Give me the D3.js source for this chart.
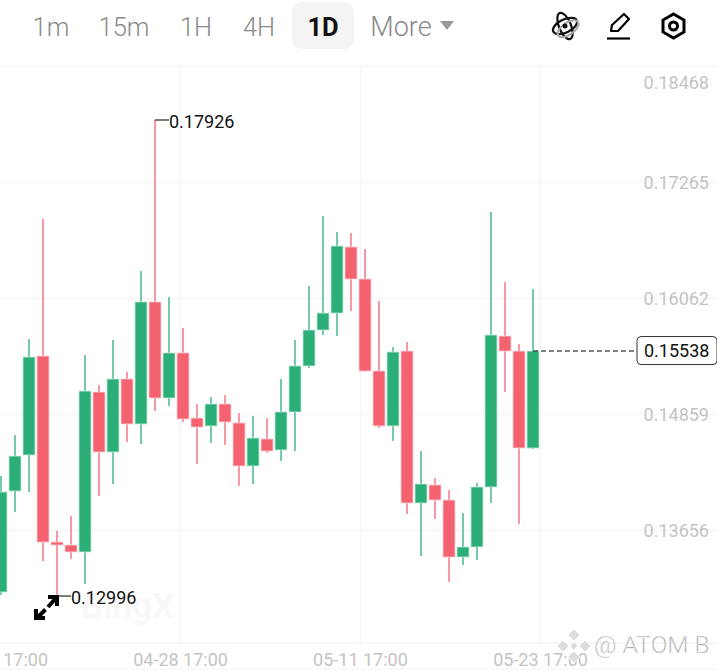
<!DOCTYPE html>
<html><head><meta charset="utf-8">
<script src="https://cdn.jsdelivr.net/npm/d3@7/dist/d3.min.js"></script>
<style>html,body{margin:0;padding:0;background:#fff;overflow:hidden}svg{display:block;font-family:Roboto,sans-serif}</style>
</head><body><svg id="c" width="717" height="670"></svg>
<script>
const opens =[.13013,.14060,.14434,.15460,.13531,.13500,.13428,.15087,.14465,.15222,.14755,.16021,.15025,.15492,.14817,.14735,.14963,.14766,.14320,.14600,.14486,.14880,.15357,.15730,.15906,.16591,.16259,.15305,.14735,.15512,.13936,.14123,.13967,.13376,.13480,.14102,.15668,.15512,.14506];
const highs =[.14216,.14641,.15637,.16881,.13646,.13801,.15471,.15160,.15626,.15295,.16342,.17908,.16072,.15751,.14963,.15035,.15056,.14869,.14838,.14817,.15222,.15626,.16186,.16912,.16746,.16736,.16570,.16031,.15554,.15606,.14475,.14195,.14071,.13832,.14143,.16954,.16228,.15585,.16155];
const lows  =[.12982,.13843,.14050,.13334,.12971,.13355,.13096,.14009,.14133,.14569,.14548,.14890,.14942,.14776,.14340,.14558,.14537,.14112,.14133,.14454,.14372,.14475,.15336,.15678,.15668,.15927,.15295,.14714,.14579,.13822,.13386,.13770,.13117,.13293,.13345,.13936,.15087,.13718,.14496];
const closes=[.14050,.14423,.15450,.13531,.13500,.13428,.15097,.14465,.15222,.14755,.16021,.15025,.15492,.14807,.14724,.14963,.14776,.14320,.14610,.14475,.14880,.15357,.15730,.15906,.16601,.16259,.15305,.14735,.15502,.13936,.14133,.13967,.13376,.13480,.14102,.15678,.15512,.14506,.15512];
const priceTicks=[0.18468,0.17265,0.16062,0.14859,0.13656];
const dateIdx=[12.79,25.64,38.5];
const dateLabels=["04-28 17:00","05-11 17:00","05-23 17:00"];
const clippedDate="17:00";
const lastPrice="0.15538", maxLabel="0.17926", minLabel="0.12996";
const periods=["1m","15m","1H","4H","1D","More"];
const periodX=[51,124,196,259,323,401];

const UP="#2bae78",DOWN="#f46270",UPW="#76c9a9",DOWNW="#f898a4";
const svg=d3.select("#c");
const W=717;
const y=d3.scaleLinear().domain([0.18468,0.13656]).range([66,530]);
const x=d3.scaleLinear().domain([0,38]).range([1,533]);

const axisY=svg.append("g").attr("transform",`translate(${W},0)`)
  .call(d3.axisLeft(y).tickValues(priceTicks).tickSize(W).tickFormat(d3.format(".5f")));
axisY.select(".domain").remove();
axisY.selectAll("line").attr("stroke","#f5f5f5").attr("stroke-width",1.6);
axisY.selectAll("text").attr("x",-8).attr("text-anchor","end").attr("dy",(d,i)=>i==0?"22.500px":"6.500px")
  .attr("fill","#c4c4c4").attr("font-size",18).attr("font-family","Roboto");

const axisX=svg.append("g").attr("transform","translate(0,643)")
  .call(d3.axisBottom(x).tickValues(dateIdx).tickSize(-577).tickFormat((d,i)=>dateLabels[i]));
axisX.select(".domain").remove();
axisX.selectAll("line").attr("stroke","#f5f5f5").attr("stroke-width",1.6);
axisX.selectAll("text").attr("y",0).attr("dy","23px").attr("fill","#c4c4c4").attr("font-size",18).attr("font-family","Roboto").attr("text-anchor","middle");
svg.append("text").attr("x",48).attr("y",666).attr("text-anchor","end").attr("fill","#c4c4c4").attr("font-size",18).text(clippedDate);
svg.append("line").attr("x1",0).attr("x2",W).attr("y1",643).attr("y2",643).attr("stroke","#f3f3f3").attr("stroke-width",1.6);
svg.append("line").attr("x1",0).attr("x2",W).attr("y1",669).attr("y2",669).attr("stroke","#f4f4f4").attr("stroke-width",1);

svg.append("text").attr("x",81).attr("y",618).attr("font-size",35).attr("font-weight",700).attr("fill","#f8f8f8").text("BingX");

const rows=d3.range(opens.length);
const isUp=i=>closes[i]>=opens[i];
svg.append("g").selectAll("line").data(rows).join("line")
  .attr("x1",x).attr("x2",x).attr("y1",i=>y(highs[i])).attr("y2",i=>y(lows[i]))
  .attr("stroke",i=>isUp(i)?UPW:DOWNW).attr("stroke-width",2);
svg.append("g").selectAll("rect").data(rows).join("rect")
  .attr("x",i=>x(i)-6).attr("width",12)
  .attr("y",i=>y(Math.max(opens[i],closes[i])))
  .attr("height",i=>Math.abs(y(opens[i])-y(closes[i])))
  .attr("fill",i=>isUp(i)?UP:DOWN)
  .attr("stroke",i=>isUp(i)?"#c5e8da":"#fbd0d5").attr("stroke-width",0.8);

const hi=d3.greatest(rows,i=>highs[i]), lo=d3.least(rows,i=>lows[i]);
[[hi,highs,maxLabel],[lo,lows,minLabel]].forEach(([i,arr,lab])=>{
  const px=x(i),py=y(arr[i]);
  svg.append("line").attr("x1",px).attr("x2",px+14).attr("y1",py).attr("y2",py).attr("stroke","#222").attr("stroke-width",1.2);
  svg.append("text").attr("x",px+14).attr("y",py+8).attr("font-size",18).attr("fill","#111").text(lab);
});

const lastI=closes.length-1, lp=y(closes[lastI]);
svg.append("line").attr("x1",x(lastI)).attr("x2",636).attr("y1",lp).attr("y2",lp)
  .attr("stroke","#000").attr("stroke-width",1.1).attr("stroke-dasharray","5 3");
svg.append("rect").attr("x",637).attr("y",lp-14.5).attr("width",80).attr("height",28).attr("rx",4)
  .attr("fill","#fff").attr("stroke","#333").attr("stroke-width",1);
svg.append("text").attr("x",644).attr("y",lp+6).attr("font-size",18).attr("fill","#111").text(lastPrice);

const arrow=svg.append("g").attr("fill","none").attr("stroke","#000").attr("stroke-width",4);
arrow.append("path").attr("d","M38 617 L45.500 609.500 M48 607 L56 598");
arrow.append("path").attr("d","M36 609 L36 618 L45 618");
arrow.append("path").attr("d","M48 597 L57 597 L57 606");

svg.append("rect").attr("x",292).attr("y",2).attr("width",62).attr("height",47).attr("rx",9).attr("fill","#f4f4f4");
svg.append("g").selectAll("text").data(periods).join("text")
  .attr("x",(d,i)=>periodX[i]).attr("y",36).attr("text-anchor","middle")
  .attr("font-size",(d,i)=>d==="More"?27:25.5).attr("font-weight",(d,i)=>d==="1D"?700:300)
  .attr("fill",d=>d==="1D"?"#111":"#8a8a8a").text(d=>d);
svg.append("path").attr("d","M440 21 L454 21 L447 30 Z").attr("fill","#999");

const atom=svg.append("g").attr("transform","translate(565,26)").attr("fill","none").attr("stroke-width",2.2);
atom.append("ellipse").attr("rx",13).attr("ry",6.5).attr("transform","rotate(-25)").attr("stroke","#111");
atom.append("ellipse").attr("rx",6).attr("ry",14).attr("transform","rotate(-22)").attr("stroke","#111");
atom.append("ellipse").attr("rx",6).attr("ry",12).attr("transform","rotate(55) translate(4,-1)").attr("stroke","#aaa");
atom.append("circle").attr("r",2.5).attr("fill","#111").attr("stroke","none");
const pen=svg.append("g").attr("fill","none").attr("stroke","#000").attr("stroke-width",2.2).attr("stroke-linejoin","round");
pen.append("path").attr("d","M611 31 L612 25 L624 14 L629 19 L618 31 Z");
pen.append("path").attr("d","M607 38.5 L630 38.5");
const hex=svg.append("g").attr("fill","none").attr("stroke","#000").attr("stroke-width",3);
hex.append("path").attr("d","M673.500 14 L684 20 L684 32 L673.500 38 L663 32 L663 20 Z");
hex.append("circle").attr("cx",673.5).attr("cy",26).attr("r",4);

const dia=svg.append("g").attr("fill","#dcdcdc").attr("stroke","#fff").attr("stroke-width",0.8);
[[574,635,6],[563,646,6],[585,646,6],[574,657,6],[574,646,4]].forEach(([cx,cy,r])=>{
  dia.append("path").attr("d",`M${cx} ${cy-r} L${cx+r} ${cy} L${cx} ${cy+r} L${cx-r} ${cy} Z`);
});
svg.append("text").attr("x",594).attr("y",653).attr("font-size",24.6).attr("font-weight",300)
  .attr("fill","#aaaaaa").attr("stroke","#fff").attr("stroke-width",0.3).text("@ ATOM B");
</script></body></html>
